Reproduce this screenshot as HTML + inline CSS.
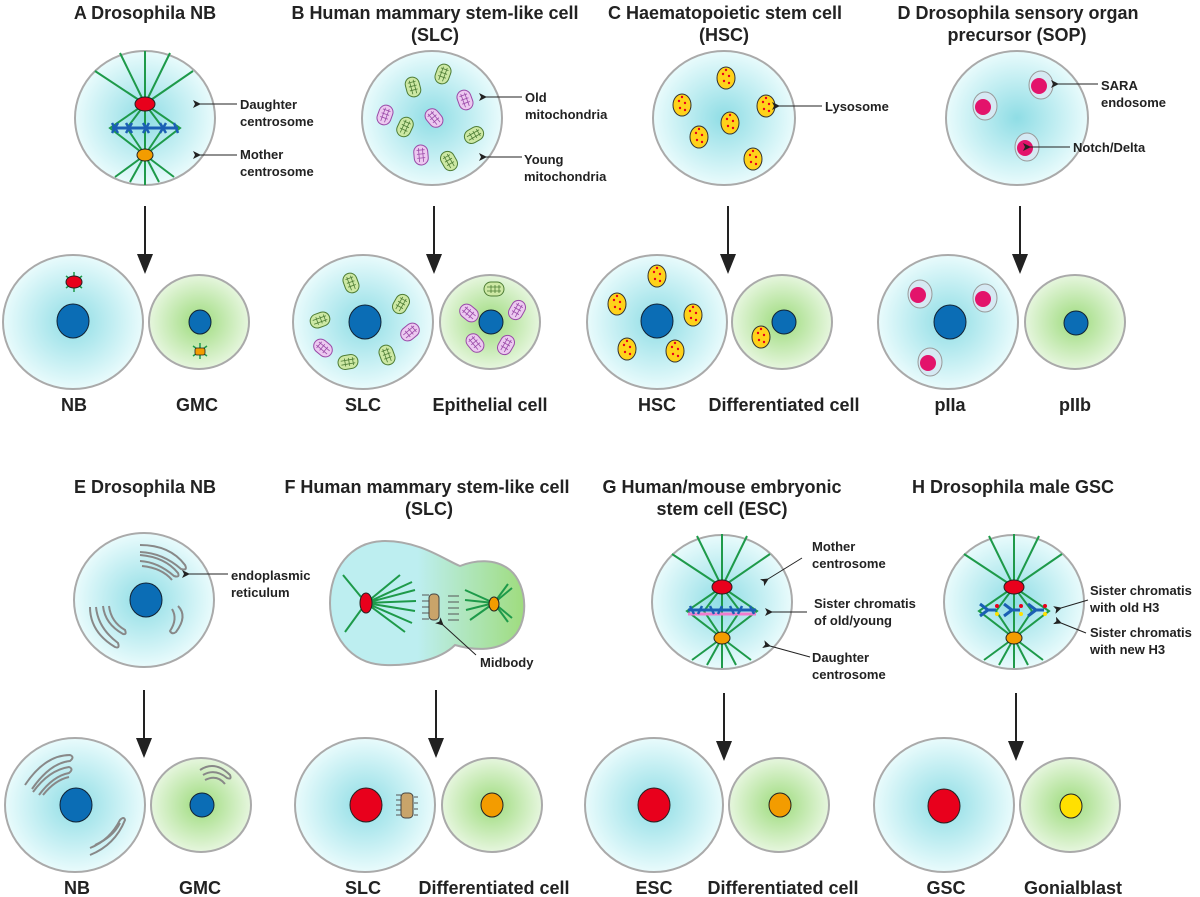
<!DOCTYPE html>
<html><head><meta charset="utf-8"><style>
html,body{margin:0;padding:0;background:#fff;width:1200px;height:897px;overflow:hidden}
text{font-family:"Liberation Sans",Arial,sans-serif;font-weight:bold;fill:#222}
.t{font-size:18px}
.l{font-size:18px}
.a{font-size:13px}
</style></head><body>
<svg width="1200" height="897" viewBox="0 0 1200 897" xmlns="http://www.w3.org/2000/svg">
<defs>
<radialGradient id="b" cx="50%" cy="50%" r="50%"><stop offset="0" stop-color="#8fdde5"/><stop offset="1" stop-color="#e9fbfc"/></radialGradient>
<radialGradient id="g" cx="50%" cy="50%" r="50%"><stop offset="0" stop-color="#9ddb7c"/><stop offset="1" stop-color="#e6f6de"/></radialGradient>
<linearGradient id="f" x1="0" x2="1" y1="0" y2="0"><stop offset="0" stop-color="#bdeef0"/><stop offset="0.45" stop-color="#bdeef0"/><stop offset="1" stop-color="#9fdc7e"/></linearGradient>
<marker id="m" markerWidth="8" markerHeight="8" refX="1" refY="4" orient="auto" markerUnits="userSpaceOnUse"><path d="M8,0 L0,4 L8,8 L6,4 Z" fill="#222"/></marker>
<g id="mg"><rect x="-7" y="-10" width="14" height="20" rx="7" fill="#cde8a4" stroke="#4e7d35" stroke-width="1"/><path d="M-4,-5 h8 M-4,-1 h8 M-4,3 h8 M-2,-7 v14 M2,-7 v14" stroke="#4e7d35" stroke-width="0.8" fill="none"/></g>
<g id="mp"><rect x="-7" y="-10" width="14" height="20" rx="7" fill="#ecc9f0" stroke="#9a4aa8" stroke-width="1"/><path d="M-4,-5 h8 M-4,-1 h8 M-4,3 h8 M-2,-7 v14 M2,-7 v14" stroke="#9a4aa8" stroke-width="0.8" fill="none"/></g>
<g id="ly"><ellipse rx="9" ry="11" fill="#ffd21a" stroke="#333" stroke-width="1"/><circle cx="-3" cy="-4" r="1.2" fill="#e8001c"/><circle cx="3" cy="-2" r="1.2" fill="#e8001c"/><circle cx="-2" cy="3" r="1.2" fill="#e8001c"/><circle cx="3" cy="5" r="1.2" fill="#e8001c"/><circle cx="0" cy="-8" r="1.2" fill="#e8001c"/></g>
<g id="en"><ellipse rx="12" ry="14" fill="#d6e9f3" stroke="#999" stroke-width="1"/><circle cx="-2" cy="1" r="8" fill="#e3136b"/></g>
<g id="sp" stroke="#1e9a4a" stroke-width="2" fill="none">
<path d="M0,-14 L-50,-47 M0,-14 L-25,-65 M0,-14 L0,-67 M0,-14 L25,-65 M0,-14 L48,-47"/>
<path d="M0,-14 L-35,10 L0,37 M0,-14 L-18,10 L0,37 M0,-14 L18,10 L0,37 M0,-14 L35,10 L0,37 M0,-14 L0,37"/>
<path d="M0,37 L-30,59 M0,37 L-15,64 M0,37 L0,67 M0,37 L14,64 M0,37 L29,59"/>
<ellipse cx="0" cy="-14" rx="10" ry="7" fill="#e8001c" stroke="#222" stroke-width="1"/>
<ellipse cx="0" cy="37" rx="8" ry="6" fill="#f39c00" stroke="#222" stroke-width="1"/>
</g>
<g id="dn"><path d="M0,0 v-60" stroke="#222" stroke-width="2"/><path d="M-8,-12 L8,-12 L0,8 Z" fill="#222"/></g>
</defs>

<!-- ===== A ===== -->
<text class="t" x="145" y="19" text-anchor="middle">A  Drosophila NB</text>
<ellipse cx="145" cy="118" rx="70" ry="67" fill="url(#b)" stroke="#aaa" stroke-width="2"/>
<use href="#sp" x="145" y="118"/>
<path d="M112,128 h66" stroke="#1a5fb4" stroke-width="3"/>
<path d="M112,123 l6,10 M118,123 l-6,10 M126,123 l6,10 M132,123 l-6,10 M143,123 l6,10 M149,123 l-6,10 M160,123 l6,10 M166,123 l-6,10 M174,123 l4,10" stroke="#1a5fb4" stroke-width="2.5"/>
<line x1="237" y1="104" x2="200" y2="104" stroke="#222" stroke-width="1" marker-end="url(#m)"/>
<text class="a" x="240" y="109">Daughter</text><text class="a" x="240" y="126">centrosome</text>
<line x1="237" y1="155" x2="200" y2="155" stroke="#222" stroke-width="1" marker-end="url(#m)"/>
<text class="a" x="240" y="159">Mother</text><text class="a" x="240" y="176">centrosome</text>
<use href="#dn" x="145" y="266"/>
<ellipse cx="73" cy="322" rx="70" ry="67" fill="url(#b)" stroke="#aaa" stroke-width="2"/>
<ellipse cx="73" cy="321" rx="16" ry="17" fill="#0b6db5" stroke="#123" stroke-width="1"/>
<path d="M66,276 l16,12 M82,276 l-16,12 M74,272 v20" stroke="#1e9a4a" stroke-width="1.5"/>
<ellipse cx="74" cy="282" rx="8" ry="6" fill="#e8001c" stroke="#222" stroke-width="1"/>
<ellipse cx="199" cy="322" rx="50" ry="47" fill="url(#g)" stroke="#aaa" stroke-width="2"/>
<ellipse cx="200" cy="322" rx="11" ry="12" fill="#0b6db5" stroke="#123" stroke-width="1"/>
<path d="M193,346 l14,10 M207,346 l-14,10 M200,343 v16" stroke="#1e9a4a" stroke-width="1.5"/>
<rect x="195" y="348" width="10" height="7" rx="2" fill="#f39c00" stroke="#222" stroke-width="0.8"/>
<text class="l" x="74" y="411" text-anchor="middle">NB</text>
<text class="l" x="197" y="411" text-anchor="middle">GMC</text>

<!-- ===== B ===== -->
<text class="t" x="435" y="19" text-anchor="middle">B  Human mammary stem-like cell</text>
<text class="t" x="435" y="41" text-anchor="middle">(SLC)</text>
<ellipse cx="432" cy="118" rx="70" ry="67" fill="url(#b)" stroke="#aaa" stroke-width="2"/>
<use href="#mg" transform="translate(413,87) rotate(-15)"/>
<use href="#mg" transform="translate(443,74) rotate(20)"/>
<use href="#mg" transform="translate(405,127) rotate(25)"/>
<use href="#mg" transform="translate(474,135) rotate(60)"/>
<use href="#mg" transform="translate(449,161) rotate(-30)"/>
<use href="#mp" transform="translate(385,115) rotate(20)"/>
<use href="#mp" transform="translate(465,100) rotate(-20)"/>
<use href="#mp" transform="translate(434,118) rotate(-40)"/>
<use href="#mp" transform="translate(421,155) rotate(-5)"/>
<line x1="522" y1="97" x2="486" y2="97" stroke="#222" stroke-width="1" marker-end="url(#m)"/>
<text class="a" x="525" y="102">Old</text><text class="a" x="525" y="119">mitochondria</text>
<line x1="522" y1="157" x2="486" y2="157" stroke="#222" stroke-width="1" marker-end="url(#m)"/>
<text class="a" x="524" y="164">Young</text><text class="a" x="524" y="181">mitochondria</text>
<use href="#dn" x="434" y="266"/>
<ellipse cx="363" cy="322" rx="70" ry="67" fill="url(#b)" stroke="#aaa" stroke-width="2"/>
<ellipse cx="365" cy="322" rx="16" ry="17" fill="#0b6db5" stroke="#123" stroke-width="1"/>
<use href="#mg" transform="translate(351,283) rotate(-20)"/>
<use href="#mg" transform="translate(401,304) rotate(30)"/>
<use href="#mg" transform="translate(320,320) rotate(70)"/>
<use href="#mg" transform="translate(348,362) rotate(80)"/>
<use href="#mg" transform="translate(387,355) rotate(-20)"/>
<use href="#mp" transform="translate(410,332) rotate(50)"/>
<use href="#mp" transform="translate(323,348) rotate(-50)"/>
<ellipse cx="490" cy="322" rx="50" ry="47" fill="url(#g)" stroke="#aaa" stroke-width="2"/>
<ellipse cx="491" cy="322" rx="12" ry="12" fill="#0b6db5" stroke="#123" stroke-width="1"/>
<use href="#mg" transform="translate(494,289) rotate(90)"/>
<use href="#mp" transform="translate(469,313) rotate(-50)"/>
<use href="#mp" transform="translate(517,310) rotate(30)"/>
<use href="#mp" transform="translate(475,343) rotate(-40)"/>
<use href="#mp" transform="translate(506,345) rotate(30)"/>
<text class="l" x="363" y="411" text-anchor="middle">SLC</text>
<text class="l" x="490" y="411" text-anchor="middle">Epithelial cell</text>

<!-- ===== C ===== -->
<text class="t" x="725" y="19" text-anchor="middle">C  Haematopoietic stem cell</text>
<text class="t" x="724" y="41" text-anchor="middle">(HSC)</text>
<ellipse cx="724" cy="118" rx="71" ry="67" fill="url(#b)" stroke="#aaa" stroke-width="2"/>
<use href="#ly" x="726" y="78"/><use href="#ly" x="682" y="105"/><use href="#ly" x="766" y="106"/>
<use href="#ly" x="730" y="123"/><use href="#ly" x="699" y="137"/><use href="#ly" x="753" y="159"/>
<line x1="822" y1="106" x2="779" y2="106" stroke="#222" stroke-width="1" marker-end="url(#m)"/>
<text class="a" x="825" y="111">Lysosome</text>
<use href="#dn" x="728" y="266"/>
<ellipse cx="657" cy="322" rx="70" ry="67" fill="url(#b)" stroke="#aaa" stroke-width="2"/>
<ellipse cx="657" cy="321" rx="16" ry="17" fill="#0b6db5" stroke="#123" stroke-width="1"/>
<use href="#ly" x="657" y="276"/><use href="#ly" x="617" y="304"/><use href="#ly" x="693" y="315"/>
<use href="#ly" x="627" y="349"/><use href="#ly" x="675" y="351"/>
<ellipse cx="782" cy="322" rx="50" ry="47" fill="url(#g)" stroke="#aaa" stroke-width="2"/>
<ellipse cx="784" cy="322" rx="12" ry="12" fill="#0b6db5" stroke="#123" stroke-width="1"/>
<use href="#ly" x="761" y="337"/>
<text class="l" x="657" y="411" text-anchor="middle">HSC</text>
<text class="l" x="784" y="411" text-anchor="middle">Differentiated cell</text>

<!-- ===== D ===== -->
<text class="t" x="1018" y="19" text-anchor="middle">D  Drosophila sensory organ</text>
<text class="t" x="1017" y="41" text-anchor="middle">precursor (SOP)</text>
<ellipse cx="1017" cy="118" rx="71" ry="67" fill="url(#b)" stroke="#aaa" stroke-width="2"/>
<use href="#en" x="1041" y="85"/><use href="#en" x="985" y="106"/><use href="#en" x="1027" y="147"/>
<line x1="1098" y1="84" x2="1058" y2="84" stroke="#222" stroke-width="1" marker-end="url(#m)"/>
<text class="a" x="1101" y="90">SARA</text><text class="a" x="1101" y="107">endosome</text>
<line x1="1070" y1="147" x2="1030" y2="147" stroke="#222" stroke-width="1" marker-end="url(#m)"/>
<text class="a" x="1073" y="152">Notch/Delta</text>
<use href="#dn" x="1020" y="266"/>
<ellipse cx="948" cy="322" rx="70" ry="67" fill="url(#b)" stroke="#aaa" stroke-width="2"/>
<ellipse cx="950" cy="322" rx="16" ry="17" fill="#0b6db5" stroke="#123" stroke-width="1"/>
<use href="#en" x="920" y="294"/><use href="#en" x="985" y="298"/><use href="#en" x="930" y="362"/>
<ellipse cx="1075" cy="322" rx="50" ry="47" fill="url(#g)" stroke="#aaa" stroke-width="2"/>
<ellipse cx="1076" cy="323" rx="12" ry="12" fill="#0b6db5" stroke="#123" stroke-width="1"/>
<text class="l" x="950" y="411" text-anchor="middle">pIIa</text>
<text class="l" x="1075" y="411" text-anchor="middle">pIIb</text>

<!-- ===== E ===== -->
<text class="t" x="145" y="493" text-anchor="middle">E  Drosophila NB</text>
<ellipse cx="144" cy="600" rx="70" ry="67" fill="url(#b)" stroke="#aaa" stroke-width="2"/>
<ellipse cx="146" cy="600" rx="16" ry="17" fill="#0b6db5" stroke="#123" stroke-width="1"/>
<g fill="none" stroke="#888" stroke-width="2">
<path d="M140,545 q30,0 45,20 q3,6 -4,4 q-18,-16 -41,-17"/>
<path d="M140,555 q25,2 38,18 q2,5 -4,3 q-16,-14 -34,-15"/>
<path d="M142,566 q20,2 30,14"/>
<path d="M90,607 q0,25 25,40 q5,2 3,-4 q-20,-15 -22,-36"/>
<path d="M103,606 q2,18 20,28 q4,1 2,-4 q-14,-8 -16,-24"/>
<path d="M178,606 q10,10 -2,26 q-4,3 -6,-1 q8,-12 2,-22"/>
</g>
<line x1="228" y1="574" x2="189" y2="574" stroke="#222" stroke-width="1" marker-end="url(#m)"/>
<text class="a" x="231" y="580">endoplasmic</text><text class="a" x="231" y="597">reticulum</text>
<use href="#dn" x="144" y="750"/>
<ellipse cx="75" cy="805" rx="70" ry="67" fill="url(#b)" stroke="#aaa" stroke-width="2"/>
<ellipse cx="76" cy="805" rx="16" ry="17" fill="#0b6db5" stroke="#123" stroke-width="1"/>
<g fill="none" stroke="#888" stroke-width="2">
<path d="M25,785 q20,-30 45,-30 q5,2 0,6 q-20,2 -38,28"/>
<path d="M33,792 q16,-22 36,-25 q5,2 0,6 q-16,3 -30,22"/>
<path d="M43,795 q12,-15 26,-18"/>
<path d="M90,855 q25,-10 35,-35 q-1,-4 -5,0 q-10,20 -30,28"/>
<path d="M95,845 q18,-8 25,-22"/>
</g>
<ellipse cx="201" cy="805" rx="50" ry="47" fill="url(#g)" stroke="#aaa" stroke-width="2"/>
<ellipse cx="202" cy="805" rx="12" ry="12" fill="#0b6db5" stroke="#123" stroke-width="1"/>
<g fill="none" stroke="#888" stroke-width="2">
<path d="M200,770 q15,-10 30,5 q2,5 -3,3 q-12,-10 -24,-3"/>
<path d="M205,780 q12,-6 20,4"/>
</g>
<text class="l" x="77" y="894" text-anchor="middle">NB</text>
<text class="l" x="200" y="894" text-anchor="middle">GMC</text>

<!-- ===== F ===== -->
<text class="t" x="427" y="493" text-anchor="middle">F  Human mammary stem-like cell</text>
<text class="t" x="429" y="515" text-anchor="middle">(SLC)</text>
<path d="M385,541 C420,541 445,560 460,566 C475,560 495,558 510,570 C528,585 530,625 510,640 C495,652 472,650 455,645 C440,660 410,666 385,665 C350,664 330,635 330,603 C330,570 350,541 385,541 Z" fill="url(#f)" stroke="#aaa" stroke-width="2"/>
<g stroke="#1e9a4a" stroke-width="2">
<path d="M366,603 L343,575 M366,603 L345,632 M366,603 L412,582 M366,603 L415,590 M366,603 L416,601 M366,603 L415,611 M366,603 L412,623 M366,603 L400,575 M366,603 L405,632"/>
<path d="M494,603 L465,590 M494,603 L465,600 M494,603 L466,610 M494,603 L470,620 M494,603 L512,588 M494,603 L512,618 M494,603 L508,584 M494,603 L508,622"/>
</g>
<ellipse cx="366" cy="603" rx="6" ry="10" fill="#e8001c" stroke="#222" stroke-width="1"/>
<ellipse cx="494" cy="604" rx="5" ry="7" fill="#f39c00" stroke="#222" stroke-width="1"/>
<path d="M422,595 h7 M422,601 h7 M422,607 h7 M422,613 h7 M422,619 h7 M448,596 h11 M448,602 h11 M448,608 h11 M448,614 h11 M448,620 h11" stroke="#555" stroke-width="1"/>
<rect x="429" y="594" width="10" height="26" rx="4" fill="#c9a46a" stroke="#444" stroke-width="1"/>
<line x1="476" y1="655" x2="443" y2="625" stroke="#222" stroke-width="1" marker-end="url(#m)"/>
<text class="a" x="480" y="667">Midbody</text>
<use href="#dn" x="436" y="750"/>
<ellipse cx="365" cy="805" rx="70" ry="67" fill="url(#b)" stroke="#aaa" stroke-width="2"/>
<ellipse cx="366" cy="805" rx="16" ry="17" fill="#e8001c" stroke="#222" stroke-width="1"/>
<path d="M396,795 h5 M396,800 h5 M396,805 h5 M396,810 h5 M396,815 h5 M414,797 h4 M414,803 h4 M414,809 h4 M414,815 h4" stroke="#555" stroke-width="1"/>
<rect x="401" y="793" width="12" height="25" rx="4" fill="#c9a46a" stroke="#444" stroke-width="1"/>
<ellipse cx="492" cy="805" rx="50" ry="47" fill="url(#g)" stroke="#aaa" stroke-width="2"/>
<ellipse cx="492" cy="805" rx="11" ry="12" fill="#f39c00" stroke="#222" stroke-width="1"/>
<text class="l" x="363" y="894" text-anchor="middle">SLC</text>
<text class="l" x="494" y="894" text-anchor="middle">Differentiated cell</text>

<!-- ===== G ===== -->
<text class="t" x="722" y="493" text-anchor="middle">G  Human/mouse embryonic</text>
<text class="t" x="722" y="515" text-anchor="middle">stem cell (ESC)</text>
<ellipse cx="722" cy="602" rx="70" ry="67" fill="url(#b)" stroke="#aaa" stroke-width="2"/>
<use href="#sp" x="722" y="601"/>
<path d="M688,614 h68" stroke="#f07ccf" stroke-width="3"/>
<path d="M688,610 h68" stroke="#1a5fb4" stroke-width="3"/>
<path d="M690,606 l4,8 M702,606 l-4,8 M710,606 l4,8 M722,606 l-4,8 M730,606 l4,8 M742,606 l-4,8 M750,606 l4,8" stroke="#1a5fb4" stroke-width="2.5"/>
<line x1="802" y1="558" x2="768" y2="579" stroke="#222" stroke-width="1" marker-end="url(#m)"/>
<text class="a" x="812" y="551">Mother</text><text class="a" x="812" y="568">centrosome</text>
<line x1="807" y1="612" x2="772" y2="612" stroke="#222" stroke-width="1" marker-end="url(#m)"/>
<text class="a" x="814" y="608">Sister chromatis</text><text class="a" x="814" y="625">of old/young</text>
<line x1="810" y1="657" x2="770" y2="646" stroke="#222" stroke-width="1" marker-end="url(#m)"/>
<text class="a" x="812" y="662">Daughter</text><text class="a" x="812" y="679">centrosome</text>
<use href="#dn" x="724" y="753"/>
<ellipse cx="654" cy="805" rx="69" ry="67" fill="url(#b)" stroke="#aaa" stroke-width="2"/>
<ellipse cx="654" cy="805" rx="16" ry="17" fill="#e8001c" stroke="#222" stroke-width="1"/>
<ellipse cx="779" cy="805" rx="50" ry="47" fill="url(#g)" stroke="#aaa" stroke-width="2"/>
<ellipse cx="780" cy="805" rx="11" ry="12" fill="#f39c00" stroke="#222" stroke-width="1"/>
<text class="l" x="654" y="894" text-anchor="middle">ESC</text>
<text class="l" x="783" y="894" text-anchor="middle">Differentiated cell</text>

<!-- ===== H ===== -->
<text class="t" x="1013" y="493" text-anchor="middle">H  Drosophila male GSC</text>
<ellipse cx="1014" cy="602" rx="70" ry="67" fill="url(#b)" stroke="#aaa" stroke-width="2"/>
<use href="#sp" x="1014" y="601"/>
<path d="M980,604 l8,6 l-8,6 M988,610 h8 M1004,604 l8,6 l-8,6 M1012,610 h8 M1028,604 l8,6 l-8,6 M1036,610 h8" stroke="#1a5fb4" stroke-width="3" fill="none"/>
<circle cx="997" cy="606" r="2" fill="#e8001c"/><circle cx="997" cy="614" r="2" fill="#ffe000"/>
<circle cx="1021" cy="606" r="2" fill="#e8001c"/><circle cx="1021" cy="614" r="2" fill="#ffe000"/>
<circle cx="1045" cy="606" r="2" fill="#e8001c"/><circle cx="1045" cy="614" r="2" fill="#ffe000"/>
<line x1="1088" y1="600" x2="1061" y2="608" stroke="#222" stroke-width="1" marker-end="url(#m)"/>
<text class="a" x="1090" y="595">Sister chromatis</text><text class="a" x="1090" y="612">with old H3</text>
<line x1="1086" y1="633" x2="1061" y2="623" stroke="#222" stroke-width="1" marker-end="url(#m)"/>
<text class="a" x="1090" y="637">Sister chromatis</text><text class="a" x="1090" y="654">with new H3</text>
<use href="#dn" x="1016" y="753"/>
<ellipse cx="944" cy="805" rx="70" ry="67" fill="url(#b)" stroke="#aaa" stroke-width="2"/>
<ellipse cx="944" cy="806" rx="16" ry="17" fill="#e8001c" stroke="#222" stroke-width="1"/>
<ellipse cx="1070" cy="805" rx="50" ry="47" fill="url(#g)" stroke="#aaa" stroke-width="2"/>
<ellipse cx="1071" cy="806" rx="11" ry="12" fill="#ffe000" stroke="#222" stroke-width="1"/>
<text class="l" x="946" y="894" text-anchor="middle">GSC</text>
<text class="l" x="1073" y="894" text-anchor="middle">Gonialblast</text>
</svg>
</body></html>
